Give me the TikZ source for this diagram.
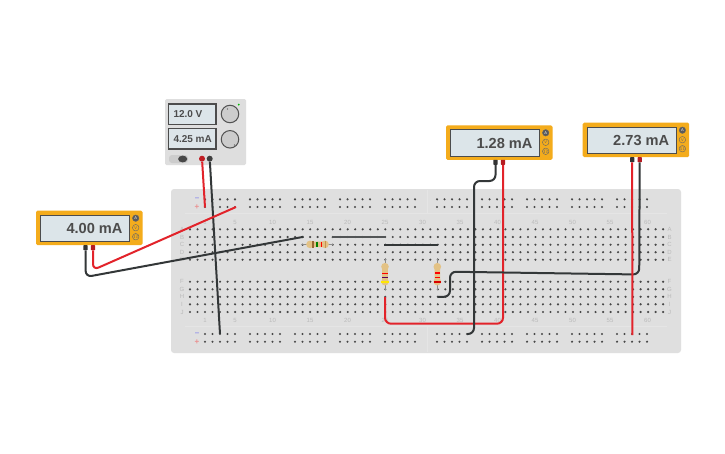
\documentclass[tikz,border=0pt]{standalone}
\usepackage{fontspec}
\setmainfont{Liberation Sans}
\usepackage{tikz}
\definecolor{board}{HTML}{DFDFDF}
\definecolor{orng}{HTML}{F4AC1C}
\definecolor{lcd}{HTML}{DCE5E9}
\definecolor{wirered}{HTML}{E2232A}
\definecolor{wireblk}{HTML}{333738}
\definecolor{restan}{HTML}{E3C285}

\tikzset{
  hole/.style={fill=black!72,circle,inner sep=0pt,minimum size=2.4pt},
  pin/.style={fill,rounded corners=.6pt,inner sep=0pt,minimum width=4.4pt,minimum height=5pt},
  lcdbox/.style={draw=black!70,line width=1.2pt,fill=lcd,inner sep=0pt},
  boardlabel/.style={text=black!27,font=\fontsize{6}{6}\selectfont,inner sep=0pt},
  redwire/.style={wirered,line width=2pt,rounded corners=6pt},
  blkwire/.style={wireblk,line width=2pt,rounded corners=6pt},
  btn/.style={circle,draw=black!60,line width=.4pt,fill=orng,minimum size=6.5pt,inner sep=0pt,
    text=black!60,font=\fontsize{4}{4}\selectfont},
  knob/.style={circle,draw=black!68,fill=black!20,line width=1pt,minimum size=17.5pt,inner sep=0pt},
  band/.style={line width=1.5pt}
}

% ammeter, top left corner at #2,#3
\newcommand{\meter}[4]{
  \fill[orng,rounded corners=1.5pt] (#2,#3) rectangle ++(106.5,34.5);
  \node[lcdbox,minimum width=89pt,minimum height=26.5pt,anchor=north west] (#1lcd) at (#2+4,#3+3.8) {};
  \node[anchor=east,text=black!70,font=\bfseries\fontsize{14.6}{15}\selectfont,inner sep=0pt] (#1val) at (#2+86.7,#3+18) {#4};
  \node[btn,fill=black!65,text=white] (#1a) at (#2+99.7,#3+7.5) {A};
  \node[btn] (#1v) at (#2+99.7,#3+17) {V};
  \node[btn] (#1r) at (#2+99.7,#3+26) {$\Omega$};
  \node[pin,black!80] (#1blk) at (#2+49.5,#3+37) {};
  \node[pin,wirered!80!black] (#1red) at (#2+57,#3+37) {};
}

% resistor body, along x
\newcommand{\resbody}{
  \fill[restan,rounded corners=2pt] (-10,-2.8) rectangle (10,2.8);
  \fill[restan] (-7.5,0) circle (3.8pt);
  \fill[restan] (7.5,0) circle (3.8pt);
}

\begin{document}
\begin{tikzpicture}[x=1pt,y=-1pt]
  \useasboundingbox (0,0) rectangle (725,453);
  \fill[white] (0,0) rectangle (725,453);

  % breadboard
  \fill[board,rounded corners=3pt] (171,189) rectangle (681,353);
  \draw[black!10,line width=.5pt] (185,213) -- (667,213);
  \draw[black!10,line width=.5pt] (185,326.7) -- (667,326.7);
  \draw[black!10,line width=.5pt] (427,190) -- (427,213);
  \draw[black!10,line width=.5pt] (427,326.7) -- (427,352);

  % main holes
  \foreach \c in {0,...,63} {
    \foreach \y in {229.3,237,244.7,252.2,259.7,281.7,289.3,296.8,304.3,312} {
      \node[hole] at (190+7.51*\c,\y) {};
    }
  }
  % rails
  \foreach \g in {205,250,295,340,385,437,482,527,572,617} {
    \foreach \c in {0,...,4} {
      \foreach \y in {199.3,207,334,341.7} {
        \node[hole] at (\g+7.5*\c,\y) {};
      }
    }
  }
  % column numbers
  \node[boardlabel] at (205,222.7) {1};
  \node[boardlabel] at (205,320) {1};
  \foreach \n in {5,10,...,60} {
    \node[boardlabel] at (205+7.5*\n-7.5,222.7) {\n};
    \node[boardlabel] at (205+7.5*\n-7.5,320) {\n};
  }
  % row letters
  \foreach \l/\y in {A/229.3,B/237,C/244.7,D/252.2,E/259.7,F/281.7,G/289.3,H/296.8,I/304.3,J/312} {
    \node[boardlabel] at (182,\y) {\l};
    \node[boardlabel] at (669.5,\y) {\l};
  }
  % rail signs
  \foreach \y/\s/\k in {199/--/blue,207/+/red,334/--/blue,342/+/red} {
    \node[text=\k!35!board,font=\fontsize{8}{8}\selectfont\bfseries,inner sep=0pt] at (197,\y) {\s};
  }

  % power supply
  \fill[black!13,rounded corners=1.5pt] (165,99) rectangle (246,165);
  \fill[black!20,rounded corners=3pt] (169,155) rectangle (188,163);
  \fill[black!72] (182.7,159) ellipse (4.6pt and 3.4pt);
  \node[lcdbox,minimum width=47.5pt,minimum height=20.3pt] (vlcd) at (192.2,114.2) {};
  \node[lcdbox,minimum width=47.5pt,minimum height=20.6pt] (ilcd) at (192.2,138.7) {};
  \node[text=black!70,font=\bfseries\fontsize{10}{10}\selectfont,inner sep=0pt,anchor=west] (vval) at (173.3,114.4) {12.0 V};
  \node[text=black!70,font=\bfseries\fontsize{10}{10}\selectfont,inner sep=0pt,anchor=west] (ival) at (173.3,139) {4.25 mA};
  \node[knob] (vknob) at (230,114) {};
  \node[knob] (iknob) at (230,139.3) {};
  \fill[black!70] (227.5,109) circle (.6pt);
  \fill[black!70] (234.5,145) circle (.6pt);
  \fill[green!75!black] (238.8,104.6) circle (1pt);
  \node[circle,fill=wirered!85!black,inner sep=0pt,minimum size=6pt] (psred) at (202,158.7) {};
  \node[circle,fill=black!75,inner sep=0pt,minimum size=6pt] (psblk) at (209.7,158.7) {};

  % ammeters
  \meter{ma}{36}{210.7}{4.00 mA}
  \meter{mb}{446}{125.3}{1.28 mA}
  \meter{mc}{582.7}{122.7}{2.73 mA}

  % resistors
  \begin{scope}[shift={(317.5,244.4)}]
    \draw[black!45,line width=1pt] (-15.5,0) -- (15.5,0);
    \resbody
    \draw[band,brown!80!black] (-4.7,-3.4) -- (-4.7,3.4);
    \draw[band,green!50!black] (-.4,-2.8) -- (-.4,2.8);
    \draw[band,red] (3.8,-2.8) -- (3.8,2.8);
    \draw[band,brown!75!restan] (8,-3.4) -- (8,3.4);
  \end{scope}
  \begin{scope}[shift={(385,274.2)},rotate=-90]
    \draw[black!45,line width=1pt] (-16,0) -- (16,0);
    \resbody
    \draw[band,red] (-.6,-2.8) -- (-.6,2.8);
    \draw[band,violet!70!black] (3.4,-2.8) -- (3.4,2.8);
    \draw[band,yellow!90!orange] (7.6,-3.8) -- (7.6,3.8);
  \end{scope}
  \begin{scope}[shift={(437.3,274.2)},rotate=-90]
    \draw[black!45,line width=1pt] (-16,0) -- (16,0);
    \resbody
    \draw[band,red] (-1,-2.8) -- (-1,2.8);
    \draw[band,red] (3.3,-2.8) -- (3.3,2.8);
    \draw[band,red!85!black] (7.6,-3.8) -- (7.6,3.8);
  \end{scope}

  % wire ends on the board
  \coordinate (railp) at (205,207.5);
  \coordinate (railm) at (220,334);
  \coordinate (railq) at (236,207);
  \coordinate (rowb) at (303.5,236.8);
  \coordinate (ja) at (332,237);
  \coordinate (jb) at (386,237);
  \coordinate (jc) at (384,244.7);
  \coordinate (jd) at (438,244.7);
  \coordinate (je) at (385,297);
  \coordinate (jf) at (437.5,296.8);
  \coordinate (jg) at (467,334);
  \coordinate (jh) at (632.3,335);
  \coordinate (jr) at (503,323.7);

  % wires
  \draw[redwire] (psred) -- (railp);
  \draw[blkwire] (psblk) -- (railm);
  \draw[redwire] (mared.south) -- (93,270) -- (railq);
  \draw[blkwire] (mablk.south) -- (85.7,277) -- (rowb);
  \draw[wireblk!85!white,line width=1.7pt] (ja) -- (jb);
  \draw[wireblk,line width=1.7pt] (jc) -- (jd);
  \draw[redwire] (je) |- (jr) -- (mbred.south);
  \draw[blkwire] (mbblk.south) |- (474,181) -- (474,334) -- (jg);
  \draw[blkwire] (jf) -| (450,271.7) -- (639.2,274.5) -- (mcred.south);
  \draw[wirered,line width=2pt] (mcblk.south) -- (jh);
\end{tikzpicture}
\end{document}
